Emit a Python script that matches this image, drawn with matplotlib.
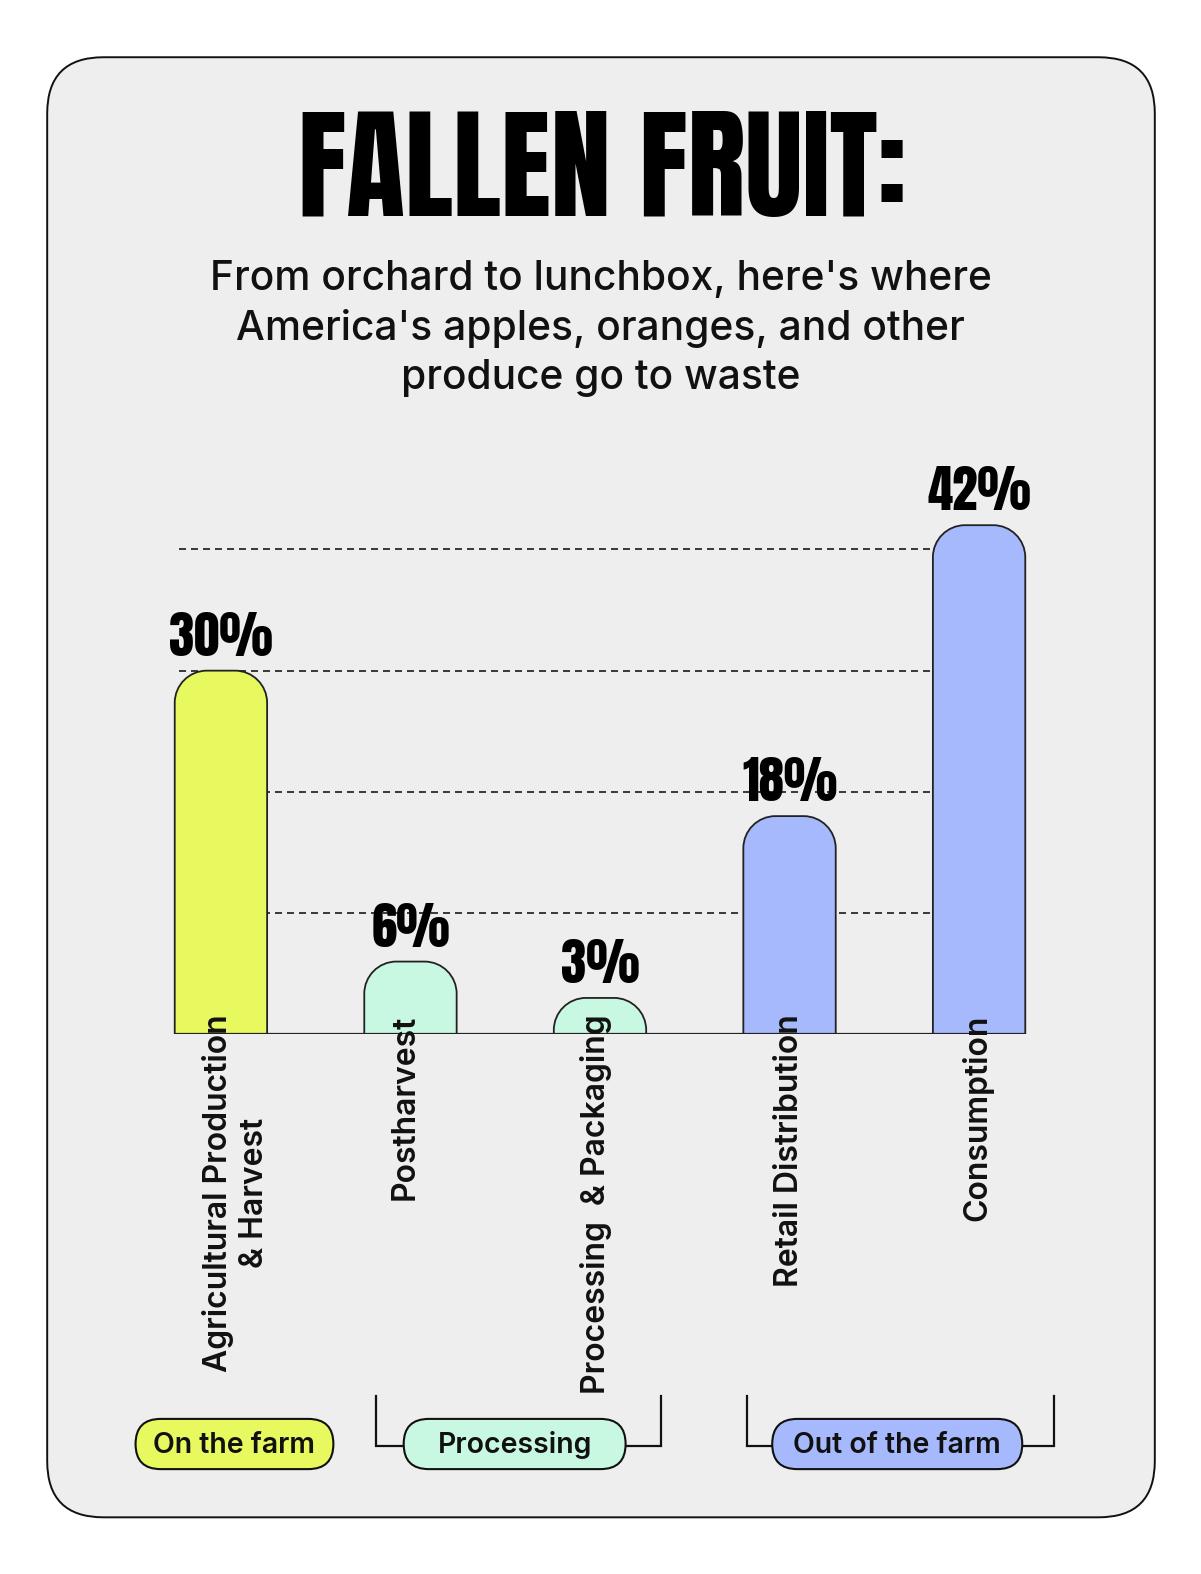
"""Fallen fruit: where America's produce goes to waste, by supply-chain stage"""

import matplotlib
matplotlib.use("Agg")
import matplotlib.pyplot as plt
from matplotlib.patches import FancyBboxPatch, PathPatch
from matplotlib.path import Path

# --- data ---
stages = ["Agricultural Production\n& Harvest", "Postharvest", "Processing  & Packaging",
          "Retail Distribution", "Consumption"]
waste_pct = [30, 6, 3, 18, 42]
stage_group = [0, 1, 1, 2, 2]
group_names = ["On the farm", "Processing", "Out of the farm"]
group_colors = ["#E7F95E", "#C8F8E2", "#A6B9FC"]
grid_levels = [10, 20, 30, 40]

title = "FALLEN FRUIT:"
subtitle = ("From orchard to lunchbox, here's where\n"
            "America's apples, oranges, and other\n"
            "produce go to waste")

# --- fonts ---
TITLE_FONT = ["Anton", "DejaVu Sans"]
BODY_FONT = ["Inter", "DejaVu Sans"]

W, H = 1201, 1574
S = 1201 / 1196   # макет размечен по уменьшенной картинке 1196x1568
BG = "#EEEEEE"
INK = "#111111"

fig = plt.figure(figsize=(W / 100, H / 100), dpi=100)
fig.patch.set_facecolor("white")

# фон-карточка и надписи в координатах макета
deco = fig.add_axes([0, 0, 1, 1], zorder=0)
deco.set_xlim(0, W / S)
deco.set_ylim(H / S, 0)
deco.axis("off")

deco.add_patch(FancyBboxPatch((47, 57), 1103, 1454, boxstyle="round,pad=0,rounding_size=56",
                              facecolor=BG, edgecolor=INK, linewidth=1.4))

deco.text(1196 / 2 + 2, 215, title, ha="center", va="baseline", fontsize=87,
          family=TITLE_FONT, color="black")
deco.text(1196 / 2, 259, subtitle, ha="center", va="top", fontsize=29.3, family=BODY_FONT,
          fontweight=500, linespacing=1.36, color=INK)

# --- bars ---
step = 188.75           # px between bar centres (layout px)
left_px = 220 - step / 2
base_px = 1030
pct_px = 507 / 42       # px per percent
ymax = 45
ax = fig.add_axes([left_px * S / W, 1 - base_px * S / H,
                   5 * step * S / W, ymax * pct_px * S / H], zorder=1)
ax.patch.set_alpha(0)
ax.set_xlim(-0.5, len(stages) - 0.5)
ax.set_ylim(0, ymax)
ax.axis("off")

bar_w = 92 / step
r_px = 32
rx, ry = r_px / step, r_px / pct_px
k = 0.5523


def rounded_top_bar(xc, h):
    x0, x1 = xc - bar_w / 2, xc + bar_w / 2
    verts = [(x0, 0), (x0, h - ry),
             (x0, h - ry + k * ry), (x0 + rx - k * rx, h), (x0 + rx, h),
             (x1 - rx, h),
             (x1 - rx + k * rx, h), (x1, h - ry + k * ry), (x1, h - ry),
             (x1, 0), (x0, 0)]
    codes = [Path.MOVETO, Path.LINETO,
             Path.CURVE4, Path.CURVE4, Path.CURVE4,
             Path.LINETO,
             Path.CURVE4, Path.CURVE4, Path.CURVE4,
             Path.LINETO, Path.CLOSEPOLY]
    return Path(verts, codes)


xs = list(range(len(stages)))

ax.hlines(grid_levels, xs[0] - bar_w / 2 + 0.02, xs[-1] - bar_w / 2, colors="#1a1a1a",
          linewidth=1.2, linestyles=(0, (4.2, 3.0)), zorder=1)

for i, v in enumerate(waste_pct):
    ax.add_patch(PathPatch(rounded_top_bar(xs[i], v), facecolor=group_colors[stage_group[i]],
                           edgecolor="#222222", linewidth=1.3, zorder=2))
    ax.annotate(f"{v}%", xy=(xs[i], v), xytext=(0, 15), textcoords="offset pixels",
                ha="center", va="baseline", fontsize=36.5, family=TITLE_FONT, color="black",
                zorder=4, annotation_clip=False)

ax.hlines(0, xs[0] - bar_w / 2, xs[-1] + bar_w / 2, colors="#222222", linewidth=1.6, zorder=3)

label_dx = [15, -5, -4, 0, -2]
for i, name in enumerate(stages):
    ax.annotate(name, xy=(xs[i], 0), xytext=(label_dx[i], 20), textcoords="offset pixels",
                rotation=90, ha="center", va="top", multialignment="center",
                fontsize=23, family=BODY_FONT, fontweight=600, color=INK,
                zorder=5, annotation_clip=False)

# --- group pills & brackets ---
pills = [(135, 197), (402, 221), (769, 249)]
pill_y, pill_h = 1413, 50
for (px, pw), name, col in zip(pills, group_names, group_colors):
    deco.add_patch(FancyBboxPatch((px, pill_y), pw, pill_h,
                                  boxstyle=f"round,pad=0,rounding_size={pill_h / 2}",
                                  facecolor=col, edgecolor=INK, linewidth=1.5, zorder=3))
    deco.text(px + pw / 2, pill_y + pill_h / 2 + 1, name, ha="center", va="center",
              fontsize=20.5, family=BODY_FONT, fontweight=600, color=INK, zorder=4)

brackets = [(374, 658, 1), (744, 1050, 2)]
for bx0, bx1, gi in brackets:
    px, pw = pills[gi]
    mid = pill_y + pill_h / 2 + 2
    deco.plot([bx0, bx0, px], [1390, mid, mid], color=INK, linewidth=1.6,
              solid_joinstyle="miter", zorder=2)
    deco.plot([px + pw, bx1, bx1], [mid, mid, 1390], color=INK, linewidth=1.6,
              solid_joinstyle="miter", zorder=2)

fig.savefig("out.png", dpi=100, facecolor=fig.get_facecolor())
